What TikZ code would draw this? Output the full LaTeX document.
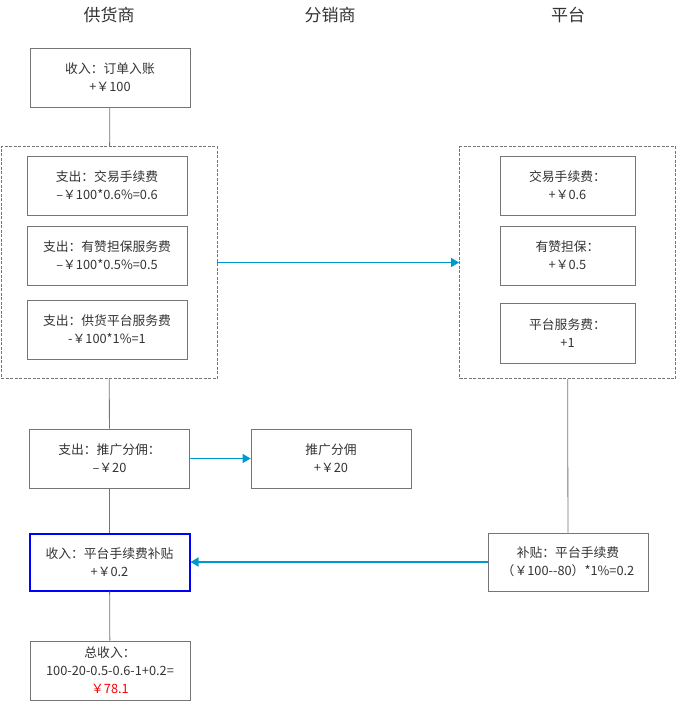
\documentclass[tikz,border=0pt]{standalone}
\usepackage{fontspec}
\setmainfont{Noto Sans CJK SC}
\usetikzlibrary{arrows.meta}
\definecolor{linegray}{HTML}{757575}
\definecolor{txtgray}{HTML}{333333}
\definecolor{flowblue}{HTML}{0099CC}
\tikzset{
  acct/.style={draw=linegray, line width=0.8pt, minimum width=160pt, minimum height=59pt,
    inner sep=2pt, align=center, text=txtgray, font=\fontsize{12.8}{18}\selectfont},
  group/.style={draw=linegray, line width=0.8pt, dash pattern=on 3pt off 1.5pt,
    minimum width=216pt, minimum height=232pt},
  coltitle/.style={text=txtgray, font=\fontsize{17}{20}\selectfont},
  link/.style={draw=linegray, line width=0.8pt},
  flow/.style={draw=flowblue, line width=1.5pt, -{Triangle[length=8pt,width=9pt]}},
}
\begin{document}
\begin{tikzpicture}[x=1pt, y=-1pt]
    \useasboundingbox (0,0) rectangle (677,701);
    % Column titles
    \node[coltitle] (tSup) at (109,15) {供货商};
    \node[coltitle] (tDis) at (330,15) {分销商};
    \node[coltitle] (tPlat) at (568,15) {平台};
    % Supplier: order income
    \node[acct] (income) at (110,77.5) {收入：订单入账\\+￥100};
    % Supplier: fees paid to platform
    \node[group] (grpSup) at (109,262.5) {};
    \node[acct] (feeTrade) at (107,185.5) {支出：交易手续费\\–￥100*0.6\%=0.6};
    \node[acct] (feeGuar) at (107,255.5) {支出：有赞担保服务费\\–￥100*0.5\%=0.5};
    \node[acct] (feeServ) at (107,329.5) {支出：供货平台服务费\\-￥100*1\%=1};
    % Platform: fees received
    \node[group] (grpPlat) at (567.5,262.5) {};
    \node[acct, minimum width=135pt] (getTrade) at (567.5,185.5) {交易手续费：\\+￥0.6};
    \node[acct, minimum width=135pt] (getGuar) at (567.5,255.5) {有赞担保：\\+￥0.5};
    \node[acct, minimum width=135pt, minimum height=60pt] (getServ) at (567.5,333) {平台服务费：\\+1};
    % Commission to distributor
    \node[acct] (commOut) at (109.5,458.5) {支出：推广分佣：\\–￥20};
    \node[acct] (commIn) at (331,458.5) {推广分佣\\+￥20};
    % Subsidy from platform
    \node[acct, draw=blue, line width=2pt, minimum height=57pt] (subIn) at (109.5,562) {收入：平台手续费补贴\\+￥0.2};
    \node[acct, minimum height=58pt] (subOut) at (568,562) {补贴：平台手续费\\（￥100-{}-80）*1\%=0.2};
    % Total
    \node[acct] (total) at (110,670.5) {总收入：\\100-20-0.5-0.6-1+0.2=\\\textcolor{red}{￥78.1}};
    % Connectors
    \draw[link] (income) -- (grpSup);
    \draw[link] (grpSup) -- (commOut);
    \draw[link] (commOut) -- (subIn);
    \draw[link] (subIn) -- (total);
    \draw[link] (grpPlat) -- (subOut);
    \draw[flow] (grpSup.east) -- (grpPlat.west);
    \draw[flow] (commOut.east) -- (commIn.west);
    \draw[flow] (subOut.west) -- (subIn.east);
\end{tikzpicture}
\end{document}
